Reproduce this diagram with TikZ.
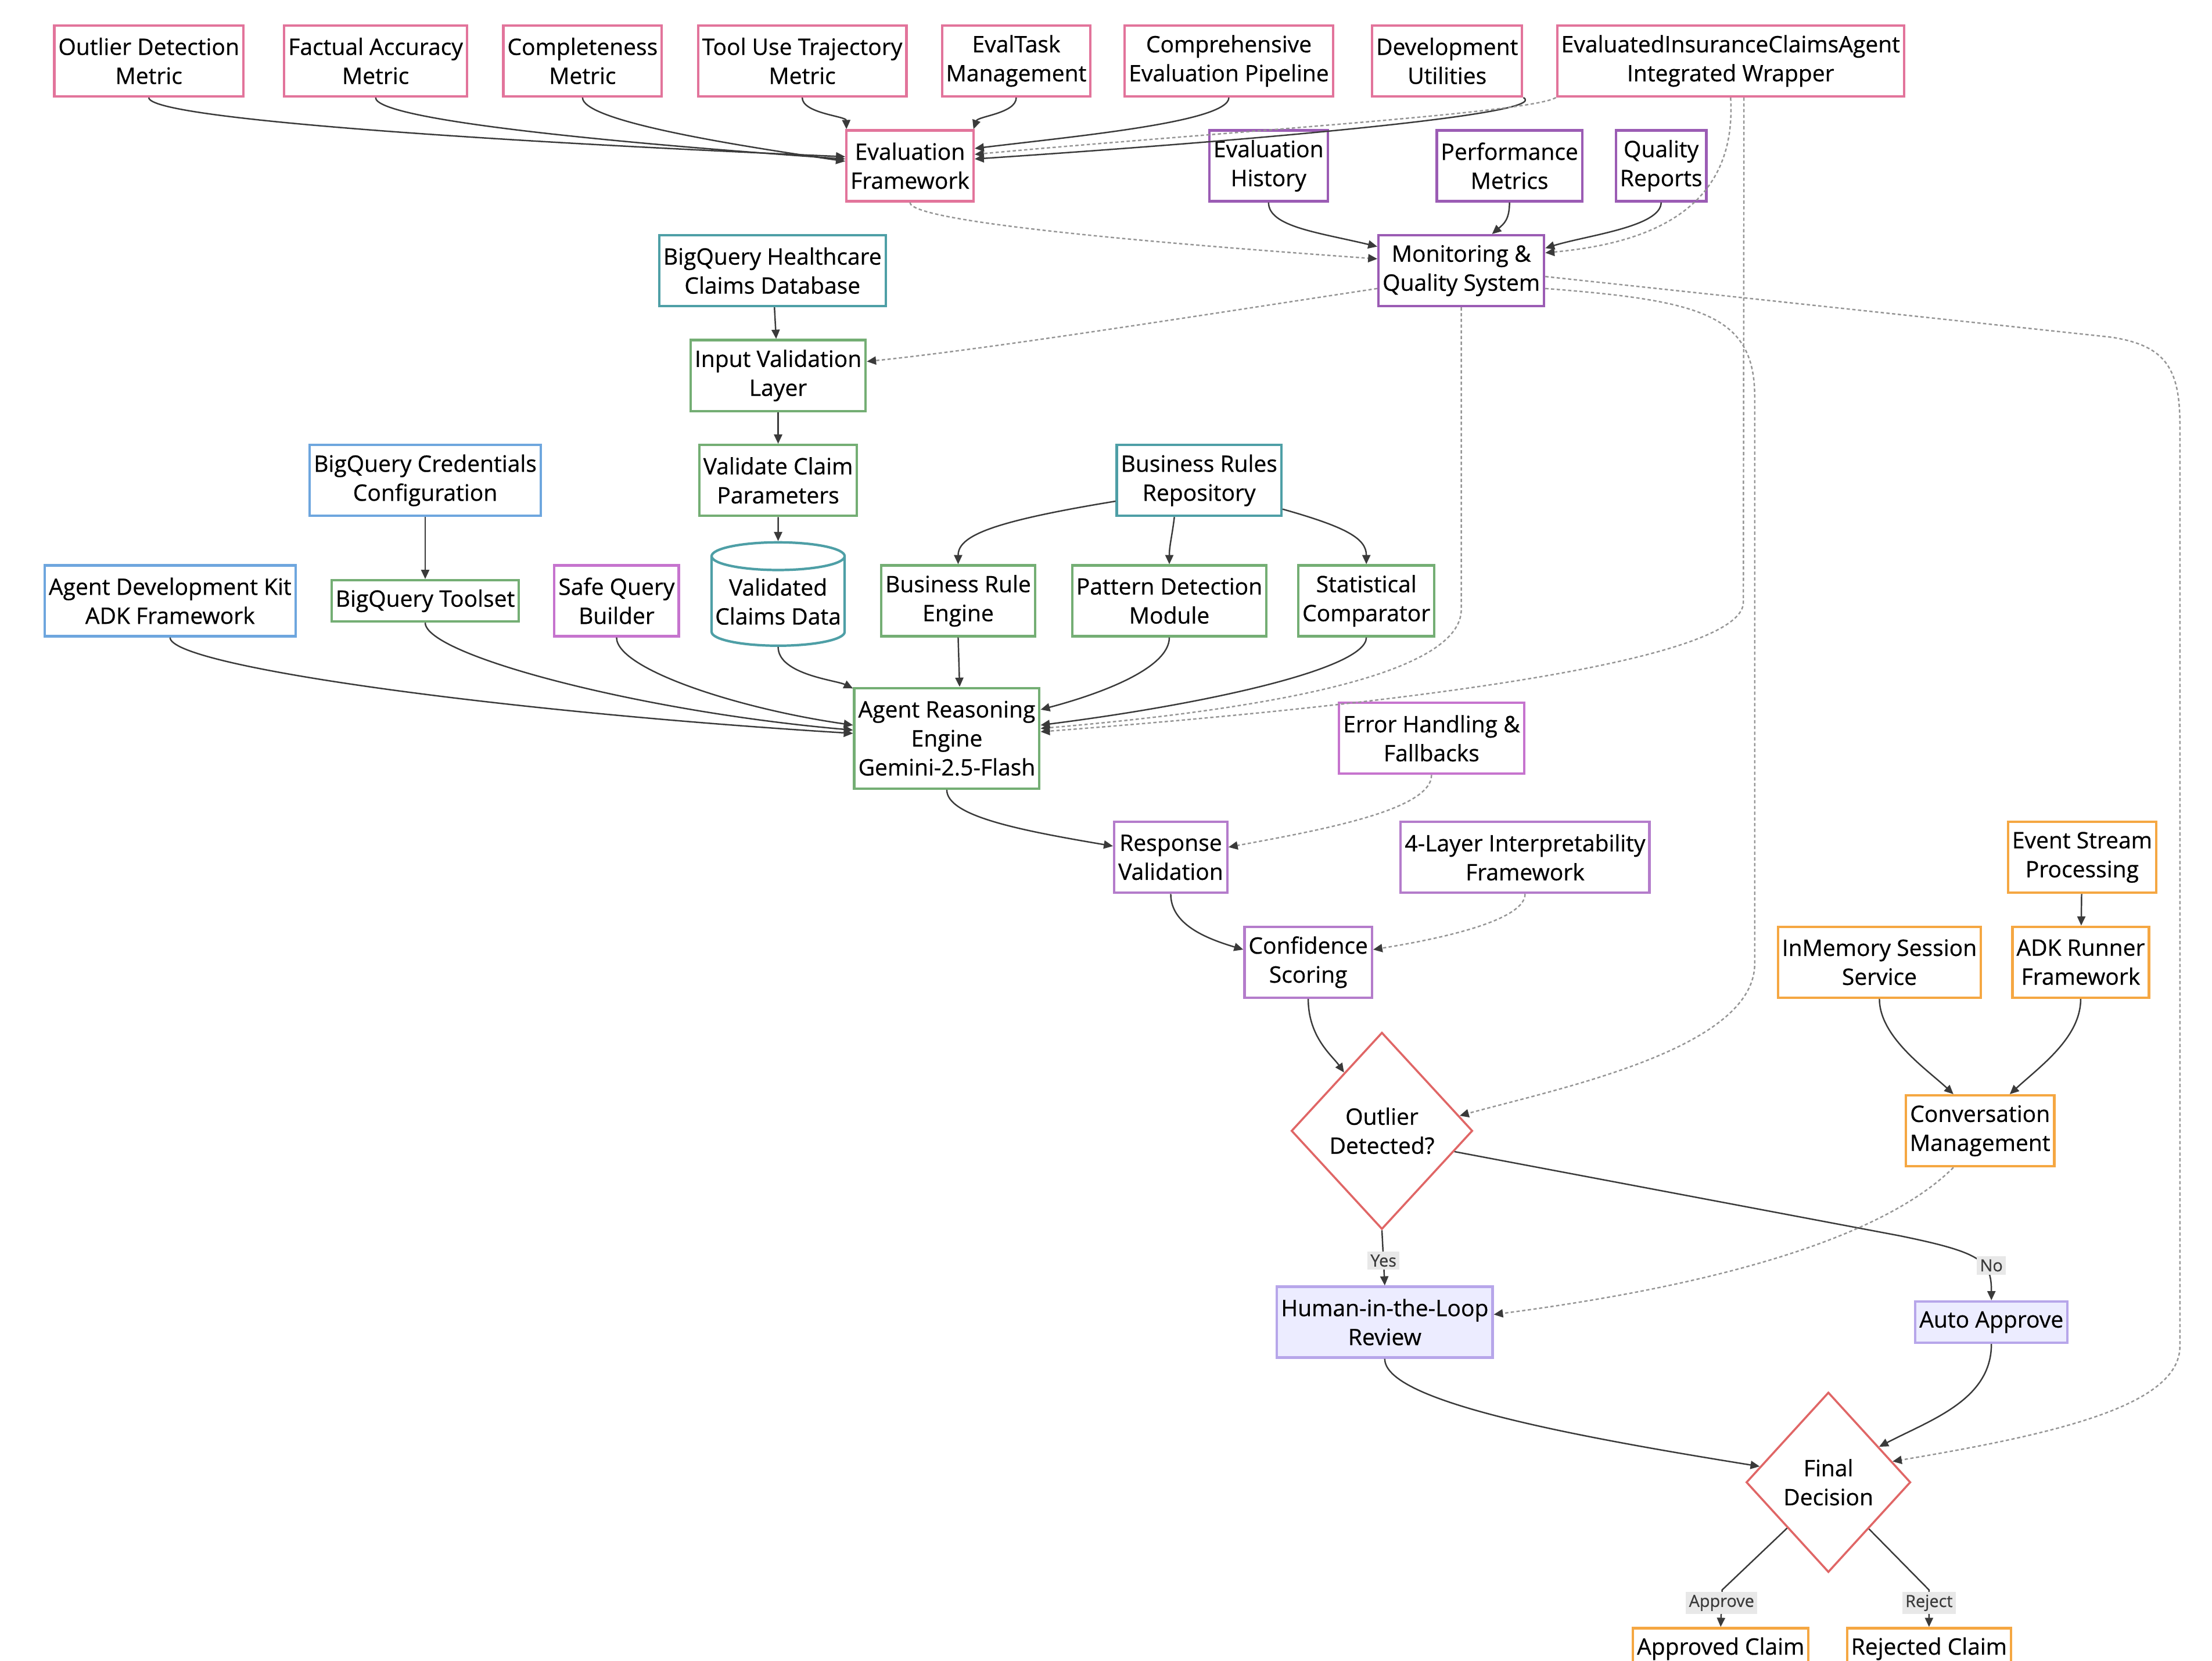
\documentclass[tikz,border=0pt]{standalone}
\usepackage{fontspec}
\setmainfont{Open Sans}[FakeBold=0.6]
\usepackage{xcolor}
\usepackage{tikz}
\usetikzlibrary{shapes, shapes.geometric, arrows.meta, calc}

\definecolor{pinkc}{HTML}{E2749B}
\definecolor{purpc}{HTML}{9B5CB4}
\definecolor{purpl}{HTML}{B47CCB}
\definecolor{lilac}{HTML}{C674CE}
\definecolor{tealc}{HTML}{4E9FA6}
\definecolor{greenc}{HTML}{74AE74}
\definecolor{bluec}{HTML}{6EA6DE}
\definecolor{orangec}{HTML}{F5A742}
\definecolor{lavfill}{HTML}{ECECFF}
\definecolor{lavline}{HTML}{B7A6EA}
\definecolor{redc}{HTML}{E06666}
\definecolor{linec}{HTML}{3A3A3A}
\definecolor{dotc}{HTML}{959595}
\definecolor{lblbg}{HTML}{E8E8E8}

\begin{document}
\begin{tikzpicture}[x=0.0244cm, y=-0.0244cm]

		\tikzstyle{box}=[rectangle, draw, fill=white, line width=1.2pt, align=center, inner xsep=0.07cm, inner ysep=0pt, minimum height=1.22cm, font=\fontsize{11.1}{14.2}\selectfont]
		\tikzstyle{onebox}=[minimum height=0.71cm]
		\tikzstyle{pinkbox}=[box, draw=pinkc]
		\tikzstyle{purpbox}=[box, draw=purpc]
		\tikzstyle{lightbox}=[box, draw=purpl]
		\tikzstyle{lilacbox}=[box, draw=lilac]
		\tikzstyle{tealbox}=[box, draw=tealc]
		\tikzstyle{greenbox}=[box, draw=greenc]
		\tikzstyle{bluebox}=[box, draw=bluec]
		\tikzstyle{orangebox}=[box, draw=orangec]
		\tikzstyle{lavbox}=[box, draw=lavline, fill=lavfill]
		\tikzstyle{dec}=[diamond, draw=redc, fill=white, line width=1pt, align=center, inner sep=0pt, font=\fontsize{11.1}{14.2}\selectfont]
		\tikzstyle{flow}=[draw=linec, line width=0.7pt, -{Triangle[length=4.5pt, width=4pt]}]
		\tikzstyle{dotflow}=[draw=dotc, line width=0.7pt, dash pattern=on 1.6pt off 1.2pt, -{Triangle[length=4.5pt, width=4pt, color=linec]}]
		\tikzstyle{lbl}=[fill=lblbg, text=linec, inner sep=1.5pt, font=\fontsize{8.2}{9}\selectfont]

		\useasboundingbox (0,0) rectangle (1560.66,1172.1);

		% evaluation row
		\node (od) at (105,43) [pinkbox] {Outlier Detection\\Metric};
		\node (fa) at (265,43) [pinkbox] {Factual Accuracy\\Metric};
		\node (cm) at (411,43) [pinkbox] {Completeness\\Metric};
		\node (tu) at (566,43) [pinkbox] {Tool Use Trajectory\\Metric};
		\node (et) at (717,43) [pinkbox] {EvalTask\\Management};
		\node (cp) at (867,43) [pinkbox] {Comprehensive\\Evaluation Pipeline};
		\node (du) at (1021,43) [pinkbox] {Development\\Utilities};
		\node (wr) at (1221,43) [pinkbox] {EvaluatedInsuranceClaimsAgent\\Integrated Wrapper};

		\node (ef) at (642,117) [pinkbox] {Evaluation\\Framework};
		\node (eh) at (895,117) [purpbox] {Evaluation\\History};
		\node (pm) at (1065,117) [purpbox] {Performance\\Metrics};
		\node (qr) at (1172,117) [purpbox] {Quality\\Reports};
		\node (mq) at (1031,191) [purpbox] {Monitoring \&\\Quality System};

		% data and rules
		\node (bh) at (545,191) [tealbox] {BigQuery Healthcare\\Claims Database};
		\node (iv) at (549,265) [greenbox] {Input Validation\\Layer};
		\node (vc) at (549,339) [greenbox] {Validate Claim\\Parameters};
		\node (bc) at (300,339) [bluebox] {BigQuery Credentials\\Configuration};
		\node (br) at (846,339) [tealbox] {Business Rules\\Repository};

		\node (adk) at (120,424) [bluebox] {Agent Development Kit\\ADK Framework};
		\node (bt) at (300,424) [greenbox, onebox] {BigQuery Toolset};
		\node (sq) at (435,424) [lilacbox] {Safe Query\\Builder};
		\node (cd) at (549,424.5) [cylinder, shape border rotate=90, aspect=0.22, draw=tealc, fill=white, line width=1.2pt, align=center, inner sep=0pt, minimum width=2.29cm, minimum height=1.78cm, font=\fontsize{11.1}{14.2}\selectfont] {Validated\\Claims Data};
		\node (be) at (676,424) [greenbox] {Business Rule\\Engine};
		\node (pd) at (825,424) [greenbox] {Pattern Detection\\Module};
		\node (sc) at (964,424) [greenbox] {Statistical\\Comparator};

		\node (ar) at (668,521) [greenbox, minimum height=1.73cm] {Agent Reasoning\\Engine\\Gemini-2.5-Flash};
		\node (err) at (1010,521) [lilacbox] {Error Handling \&\\Fallbacks};

		\node (rv) at (826,605) [lightbox] {Response\\Validation};
		\node (il) at (1076,605) [lightbox] {4-Layer Interpretability\\Framework};
		\node (cs) at (923,679) [lightbox] {Confidence\\Scoring};

		% session side
		\node (es) at (1469,605) [orangebox] {Event Stream\\Processing};
		\node (ms) at (1326,679) [orangebox] {InMemory Session\\Service};
		\node (ak) at (1468,679) [orangebox] {ADK Runner\\Framework};
		\node (cv) at (1397,798) [orangebox] {Conversation\\Management};

		% decisions
		\node (ou) at (975,798) [dec, minimum width=3.12cm, minimum height=3.39cm] {Outlier\\Detected?};
		\node (hl) at (977,933) [lavbox] {Human-in-the-Loop\\Review};
		\node (aa) at (1405,933) [lavbox, onebox] {Auto Approve};
		\node (fd) at (1290,1046) [dec, minimum width=2.83cm, minimum height=3.10cm] {Final\\Decision};
		\node (ac) at (1214,1163.5) [orangebox, onebox] {Approved Claim};
		\node (rc) at (1361,1163.5) [orangebox, onebox] {Rejected Claim};


		\draw [flow] (od.south) .. controls (105,84) and (350,100) .. (ef.172);
		\draw [flow] (fa.south) .. controls (265,84) and (420,100) .. (ef.174);
		\draw [flow] (cm.south) .. controls (411,84) and (500,100) .. (ef.176);
		\draw [flow] (tu.south) .. controls (566,80) and (597,82) .. (ef.150);
		\draw [flow] (et.south) .. controls (717,80) and (690,82) .. (ef.30);
		\draw [flow] (cp.south) .. controls (867,86) and (760,96) .. (ef.15);
		\draw [flow] (du.south east) .. controls (1095,80) and (900,98) .. (ef.6);
		\draw [dotflow] (wr.south west) .. controls (1080,80) and (850,94) .. (ef.10);

		\draw [dotflow] (ef.south) .. controls (642,158) and (850,174) .. (mq.172);
		\draw [flow] (eh.south) .. controls (895,160) and (930,164) .. (mq.164);
		\draw [flow] (pm.south) .. controls (1065,155) and (1061,158) .. (mq.50);
		\draw [flow] (qr.south) .. controls (1172,160) and (1120,166) .. (mq.15);
		\draw [dotflow] (wr.south) .. controls (1226,150) and (1160,172) .. (mq.12);

		\draw [flow] (bh) -- (iv);
		\draw [dotflow] (mq.192) .. controls (850,222) and (700,246) .. (iv.9);
		\draw [flow] (iv) -- (vc);
		\draw [flow] (vc) -- (cd.north);
		\draw [flow] (bc) -- (bt);

		\draw [flow] (br.194) .. controls (700,368) and (676,378) .. (be.north);
		\draw [flow] (br.236) .. controls (827,378) and (825,385) .. (pd.north);
		\draw [flow] (br.-19) .. controls (950,372) and (964,380) .. (sc.north);

		\draw [flow] (adk.south) .. controls (120,470) and (350,502) .. (ar.177);
		\draw [flow] (bt.south) .. controls (300,462) and (450,502) .. (ar.175);
		\draw [flow] (sq.south) .. controls (435,472) and (520,500) .. (ar.172);
		\draw [flow] (cd.south) .. controls (549,476) and (590,480) .. (ar.152);
		\draw [flow] (be.south) -- (ar.76);
		\draw [flow] (pd.south) .. controls (825,472) and (775,490) .. (ar.17);
		\draw [flow] (sc.south) .. controls (964,472) and (850,497) .. (ar.8);
		\draw [dotflow] (mq.south) -- (1031,430) .. controls (1031,475) and (900,500) .. (ar.6);
		\draw [dotflow] (wr.290) -- (1230,425) .. controls (1230,470) and (950,500) .. (ar.4);

		\draw [flow] (ar.south) .. controls (668,576) and (720,586) .. (rv.169);
		\draw [dotflow] (err.south) .. controls (1010,572) and (930,586) .. (rv.10);
		\draw [flow] (rv.south) .. controls (826,652) and (850,662) .. (cs.169);
		\draw [dotflow] (il.south) .. controls (1076,652) and (1000,665) .. (cs.11);
		\draw [flow] (cs.south) .. controls (923,732) and (940,745) .. (ou.123);
		\draw [dotflow] (mq.-12) .. controls (1200,212) and (1238,222) .. (1238,280) -- (1238,680) .. controls (1238,740) and (1100,768) .. (ou.11);

		\draw [flow] (ou.south) -- (hl.north) node (lyes) [lbl, pos=0.55] {Yes};
		\draw [flow] (ou.-16) -- (1340,872) .. controls (1399,884) and (1405,890) .. (aa.north);
		\node (lno) at (1405,893) [lbl] {No};
		\draw [dotflow] (cv.234) .. controls (1340,862) and (1250,902) .. (hl.4);

		\draw [flow] (es) -- (ak);
		\draw [flow] (ms.south) .. controls (1326,732) and (1360,755) .. (cv.126);
		\draw [flow] (ak.south) .. controls (1468,732) and (1440,752) .. (cv.51);

		\draw [flow] (hl.south) .. controls (977,988) and (1100,1012) .. (fd.167);
		\draw [flow] (aa.south) .. controls (1405,988) and (1362,1002) .. (fd.35);
		\draw [dotflow] (mq.-4) -- (1490,238) .. controls (1528,244) and (1538,260) .. (1538,300) -- (1538,950) .. controls (1538,992) and (1450,1012) .. (fd.18);

		\draw [flow] (fd.228) -- (1215,1122) -- (ac.north) node (lap) [lbl, pos=0.35] {Approve};
		\draw [flow] (fd.-49) -- (1361,1122) -- (rc.north) node (lrj) [lbl, pos=0.35] {Reject};

\end{tikzpicture}
\end{document}
